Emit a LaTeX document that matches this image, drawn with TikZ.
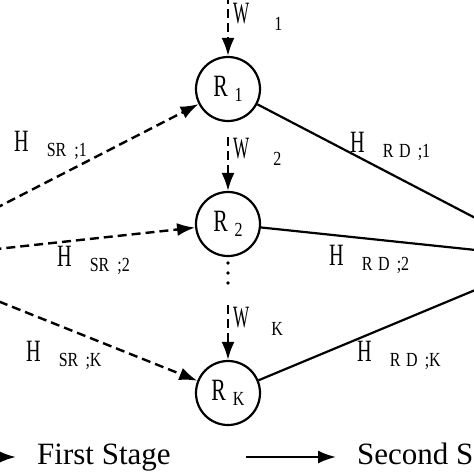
\documentclass[tikz,border=0pt]{standalone}
\usepackage{fontspec}
\setmainfont{Liberation Serif}
\usetikzlibrary{arrows.meta}

\newcommand{\bigH}{\scalebox{0.65}[1]{\fontsize{31}{31}\selectfont H}}
\newcommand{\bigW}{\scalebox{0.55}[1]{\fontsize{31}{31}\selectfont W}}
\newcommand{\subtxt}[1]{\raisebox{-5pt}{\scalebox{0.8}[1]{\fontsize{20}{20}\selectfont #1}}}
\newcommand{\chan}[1]{\bigH\hspace{18pt}\subtxt{#1}}
\newcommand{\relayname}[1]{\scalebox{0.7}[1]{R}\hspace{7pt}\subtxt{#1}}

\tikzset{
	relay/.style={draw, circle, line width=2.2pt, minimum size=64pt, inner sep=0pt, font=\fontsize{31}{31}\selectfont},
	stage one/.style={line width=2.4pt, dash pattern=on 9pt off 5pt, -{Latex[length=18pt, width=13pt]}},
	stage two/.style={line width=2.2pt, -{Latex[length=18pt, width=13pt]}},
	lab/.style={anchor=base west, inner sep=0pt}
}

\begin{document}
\begin{tikzpicture}[x=1pt, y=-1pt]
		\useasboundingbox (0, 0) rectangle (474, 474);
		\clip (0, 0) rectangle (474, 474);

		\draw (228, 89) 	node[relay] (r1) 	{\relayname{1}};
		\draw (228, 224) 	node[relay] (r2) 	{\relayname{2}};
		\draw (228, 393) 	node[relay] (rk) 	{\relayname{K}\hspace{8pt}};

		\coordinate (src) 	at (-105, 260);
		\coordinate (dst) 	at (552, 258);
		\coordinate (w1) 	at (228, -5);
		\coordinate (w2) 	at (228, 137);
		\coordinate (wk) 	at (228, 305);

		% first stage
		\draw[stage one] (src) -- (r1);
		\draw[stage one] (src) -- (r2);
		\draw[stage one] (src) -- (rk);
		\draw[stage one] (w1) -- (r1);
		\draw[stage one] (w2) -- (r2);
		\draw[stage one] (wk) -- (rk);
		\foreach \y in {263, 273, 283}
			\fill (228, \y) circle (1.8pt);

		% second stage
		\draw[line width=2.2pt] (r1) -- (dst);
		\draw[line width=2.2pt] (r2) -- (dst);
		\draw[line width=2.2pt] (rk) -- (dst);

		\draw (14, 151) 	node[lab] (hsr1) 	{\chan{SR\hspace{10pt};1}};
		\draw (57, 266) 	node[lab] (hsr2) 	{\chan{SR\hspace{10pt};2}};
		\draw (26, 361) 	node[lab] (hsrk) 	{\chan{SR\hspace{9pt};K}};
		\draw (350, 152) 	node[lab] (hrd1) 	{\chan{R\hspace{7pt}D\hspace{9pt};1}};
		\draw (329, 265) 	node[lab] (hrd2) 	{\chan{R\hspace{7pt}D\hspace{9pt};2}};
		\draw (357, 361) 	node[lab] (hrdk) 	{\chan{R\hspace{7pt}D\hspace{9pt};K}};

		\draw (233, 23) 	node[lab] (lw1) 	{\bigW\hspace{25pt}\raisebox{-7pt}{\scalebox{0.8}[1]{\fontsize{20}{20}\selectfont 1}}};
		\draw (233, 158) 	node[lab] (lw2) 	{\bigW\hspace{24pt}\raisebox{-7pt}{\scalebox{0.8}[1]{\fontsize{20}{20}\selectfont 2}}};
		\draw (233, 327) 	node[lab] (lwk) 	{\bigW\hspace{22pt}\raisebox{-8pt}{\scalebox{0.8}[1]{\fontsize{20}{20}\selectfont K}}};

		% legend
		\coordinate (leg1a) 	at (-20, 457);
		\coordinate (leg1b) 	at (16, 457);
		\coordinate (leg2a) 	at (246, 457);
		\coordinate (leg2b) 	at (336, 457);
		\draw[stage one] (leg1a) -- (leg1b);
		\draw[stage two] (leg2a) -- (leg2b);
		\draw (37, 464) 	node[lab, font=\fontsize{31}{31}\selectfont] (first) 	{First Stage};
		\draw (357, 464) 	node[lab, font=\fontsize{31}{31}\selectfont] (second) 	{Second S};
	\end{tikzpicture}
\end{document}
